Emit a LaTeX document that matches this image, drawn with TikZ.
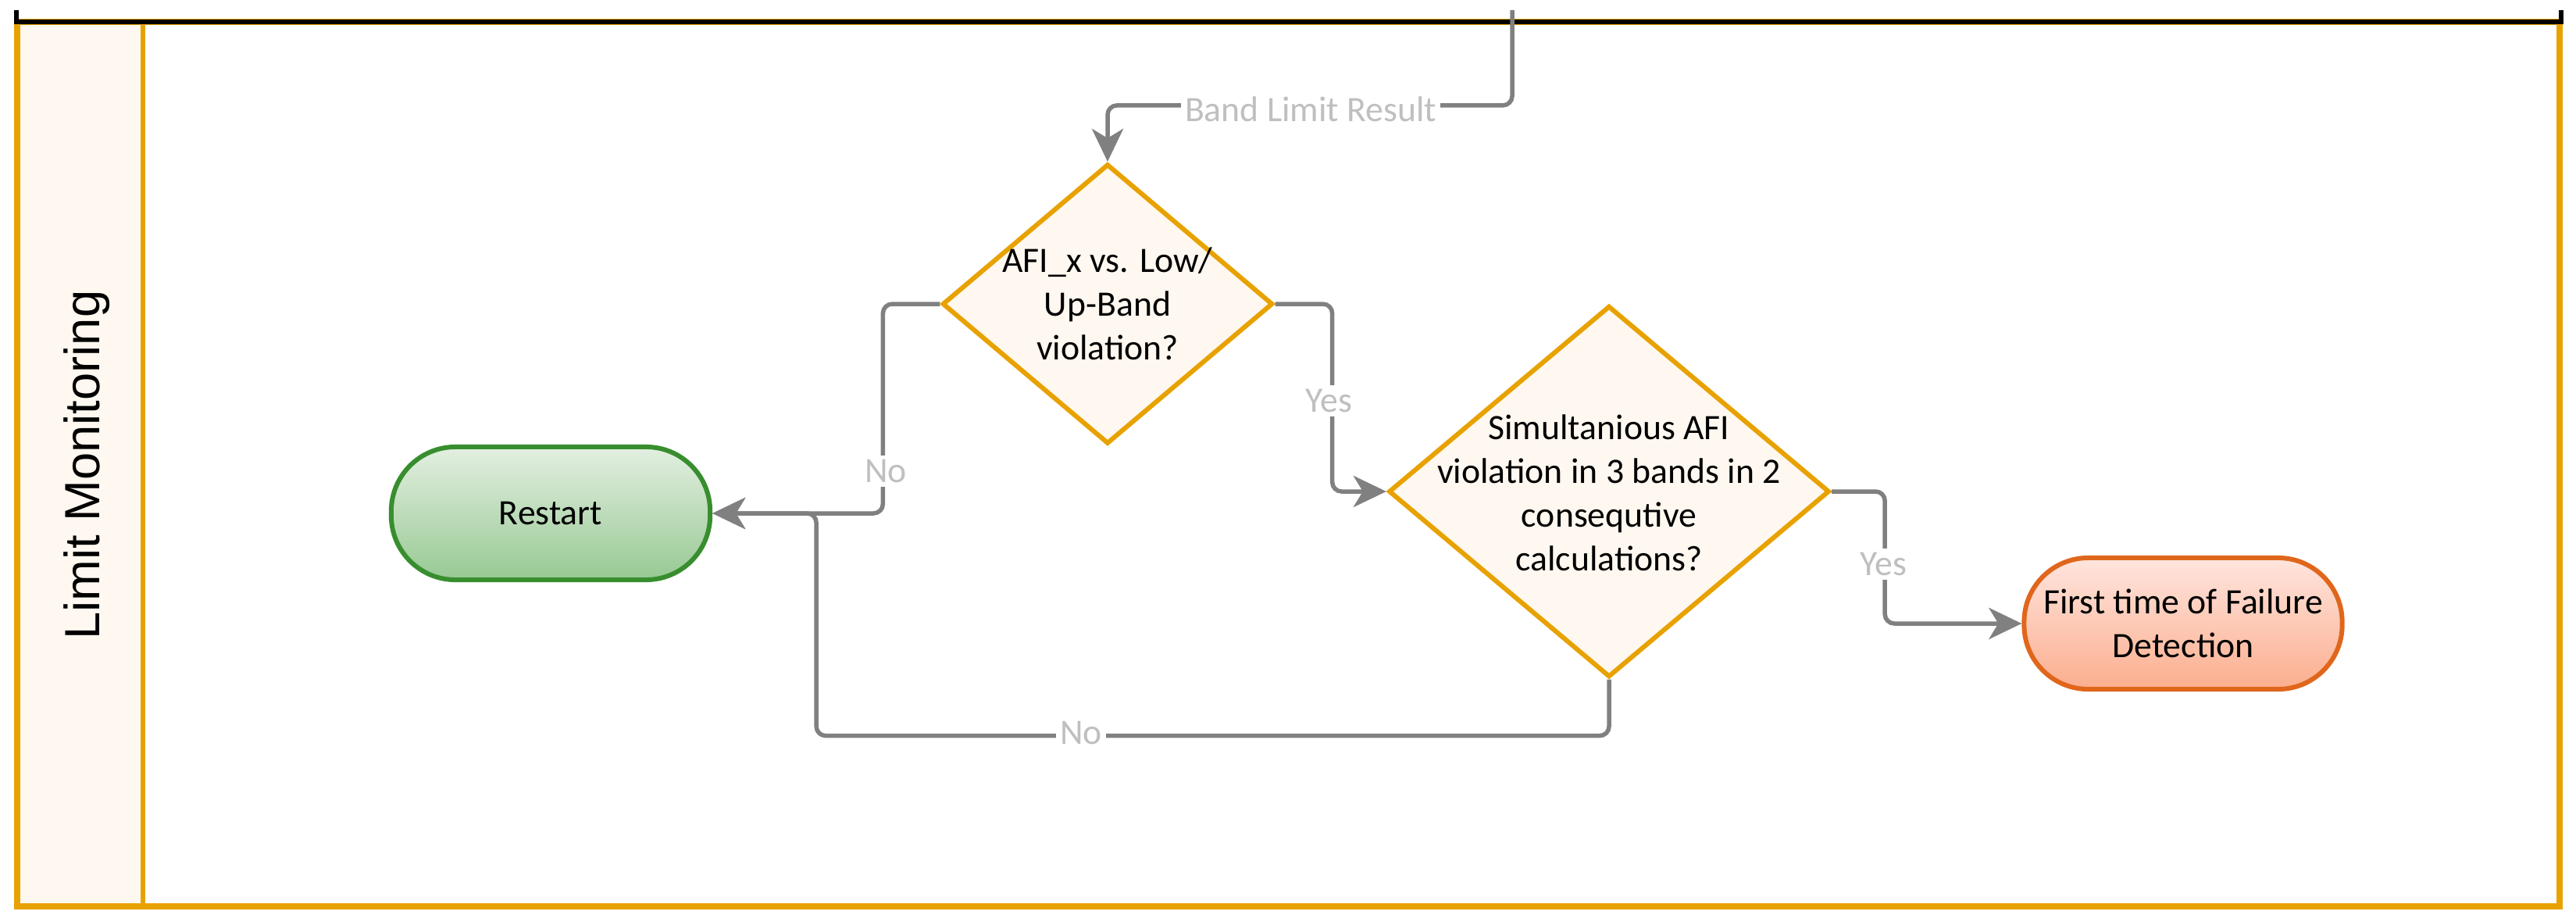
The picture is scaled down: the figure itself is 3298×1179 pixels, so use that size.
\documentclass[tikz,border=0pt]{standalone}
\usepackage{fontspec}
\setmainfont{Carlito}
\newfontfamily\titlefont{Liberation Sans}
\usetikzlibrary{shapes.geometric,arrows.meta,calc}
\definecolor{laneorange}{HTML}{E8A200}
\definecolor{lanefill}{HTML}{FFF8F0}
\definecolor{conngray}{HTML}{808080}
\definecolor{lblgray}{HTML}{BFBFBF}
\definecolor{greenborder}{HTML}{388E2E}
\definecolor{greentop}{HTML}{E3EFE1}
\definecolor{greenbot}{HTML}{97C993}
\definecolor{redborder}{HTML}{E0661C}
\definecolor{redtop}{HTML}{FFE5DE}
\definecolor{redbot}{HTML}{FBAE8E}
\tikzset{
  decision/.style={diamond, draw=laneorange, fill=lanefill, line width=0.06cm,
    inner sep=0pt, minimum width=#1},
  dtext/.style={align=center, font=\fontsize{13}{15.9}\selectfont, inner sep=0pt},
  startbox/.style={rectangle, rounded corners=0.82cm, draw=greenborder, line width=0.06cm,
    top color=greentop, bottom color=greenbot, minimum width=4.08cm, minimum height=1.70cm,
    align=center, font=\fontsize{13}{15.9}\selectfont},
  endbox/.style={rectangle, rounded corners=0.82cm, draw=redborder, line width=0.06cm,
    top color=redtop, bottom color=redbot, minimum width=4.07cm, minimum height=1.68cm,
    align=center, font=\fontsize{13}{15.9}\selectfont},
  conn/.style={draw=conngray, line width=0.055cm, rounded corners=0.12cm,
    -{Stealth[length=0.42cm, width=0.40cm, inset=0.12cm]}},
  lbl/.style={fill=white, text=lblgray, inner sep=1.5pt, font=\fontsize{13}{15.9}\selectfont}
}
\begin{document}
\begin{tikzpicture}[x=0.01cm, y=0.01cm]
\useasboundingbox (0,0) rectangle (3298,-1179);
% lane frame
\fill[lanefill] (22,-28) rectangle (183,-1160);
\draw[laneorange, line width=0.075cm] (22,-28) rectangle (3277,-1160);
\draw[laneorange, line width=0.065cm] (183,-28) -- (183,-1160);
\draw[black, line width=0.065cm] (21,-13) -- (21,-28) -- (3279,-28) -- (3279,-13);
\node[font=\titlefont\fontsize{18}{20}\selectfont, rotate=90, anchor=base, inner sep=0pt]
  (lanetitle) at (127,-595) {Limit Monitoring};

% nodes
\node[decision=4.23cm, minimum height=3.58cm] (d1) at (1418,-389) {};
\node[dtext] (d1t) at (d1.center) {AFI\_x vs. Low/\\Up-Band\\violation?};
\node[decision=5.64cm, minimum height=4.75cm] (d2) at (2060,-629) {};
\node[dtext] (d2t) at ($(d2.center)+(0,-2)$) {Simultanious AFI\\violation in 3 bands in 2\\consequtive\\calculations?};
\node[startbox] (restart) at (705,-657) {Restart};
\node[endbox] (fail) at (2795,-798) {First time of Failure\\Detection};

% connectors
\coordinate (src) at (1936,-13);
\draw[conn] (src) |- ($(d1.north)+(0,72)$) -- (d1.north);
\draw[conn] (d1.east) -- ++(73,0) |- (d2.west);
\draw[conn] (d1.west) -- ++(-73,0) |- (restart.east);
\draw[conn] (d2.east) -- ++(68,0) |- (fail.west);
\draw[conn] (d2.south) -- ++(0,-72) -| ($(restart.east)+(133,0)$) -- (restart.east);

% labels
\node[lbl] (lband) at (1678,-140) {Band Limit Result};
\node[lbl] (lyes1) at (1701,-513) {Yes};
\node[lbl] (lno1) at (1134,-603) {No};
\node[lbl] (lyes2) at (2411,-722) {Yes};
\node[lbl] (lno2) at (1384,-938) {No};
\end{tikzpicture}
\end{document}
